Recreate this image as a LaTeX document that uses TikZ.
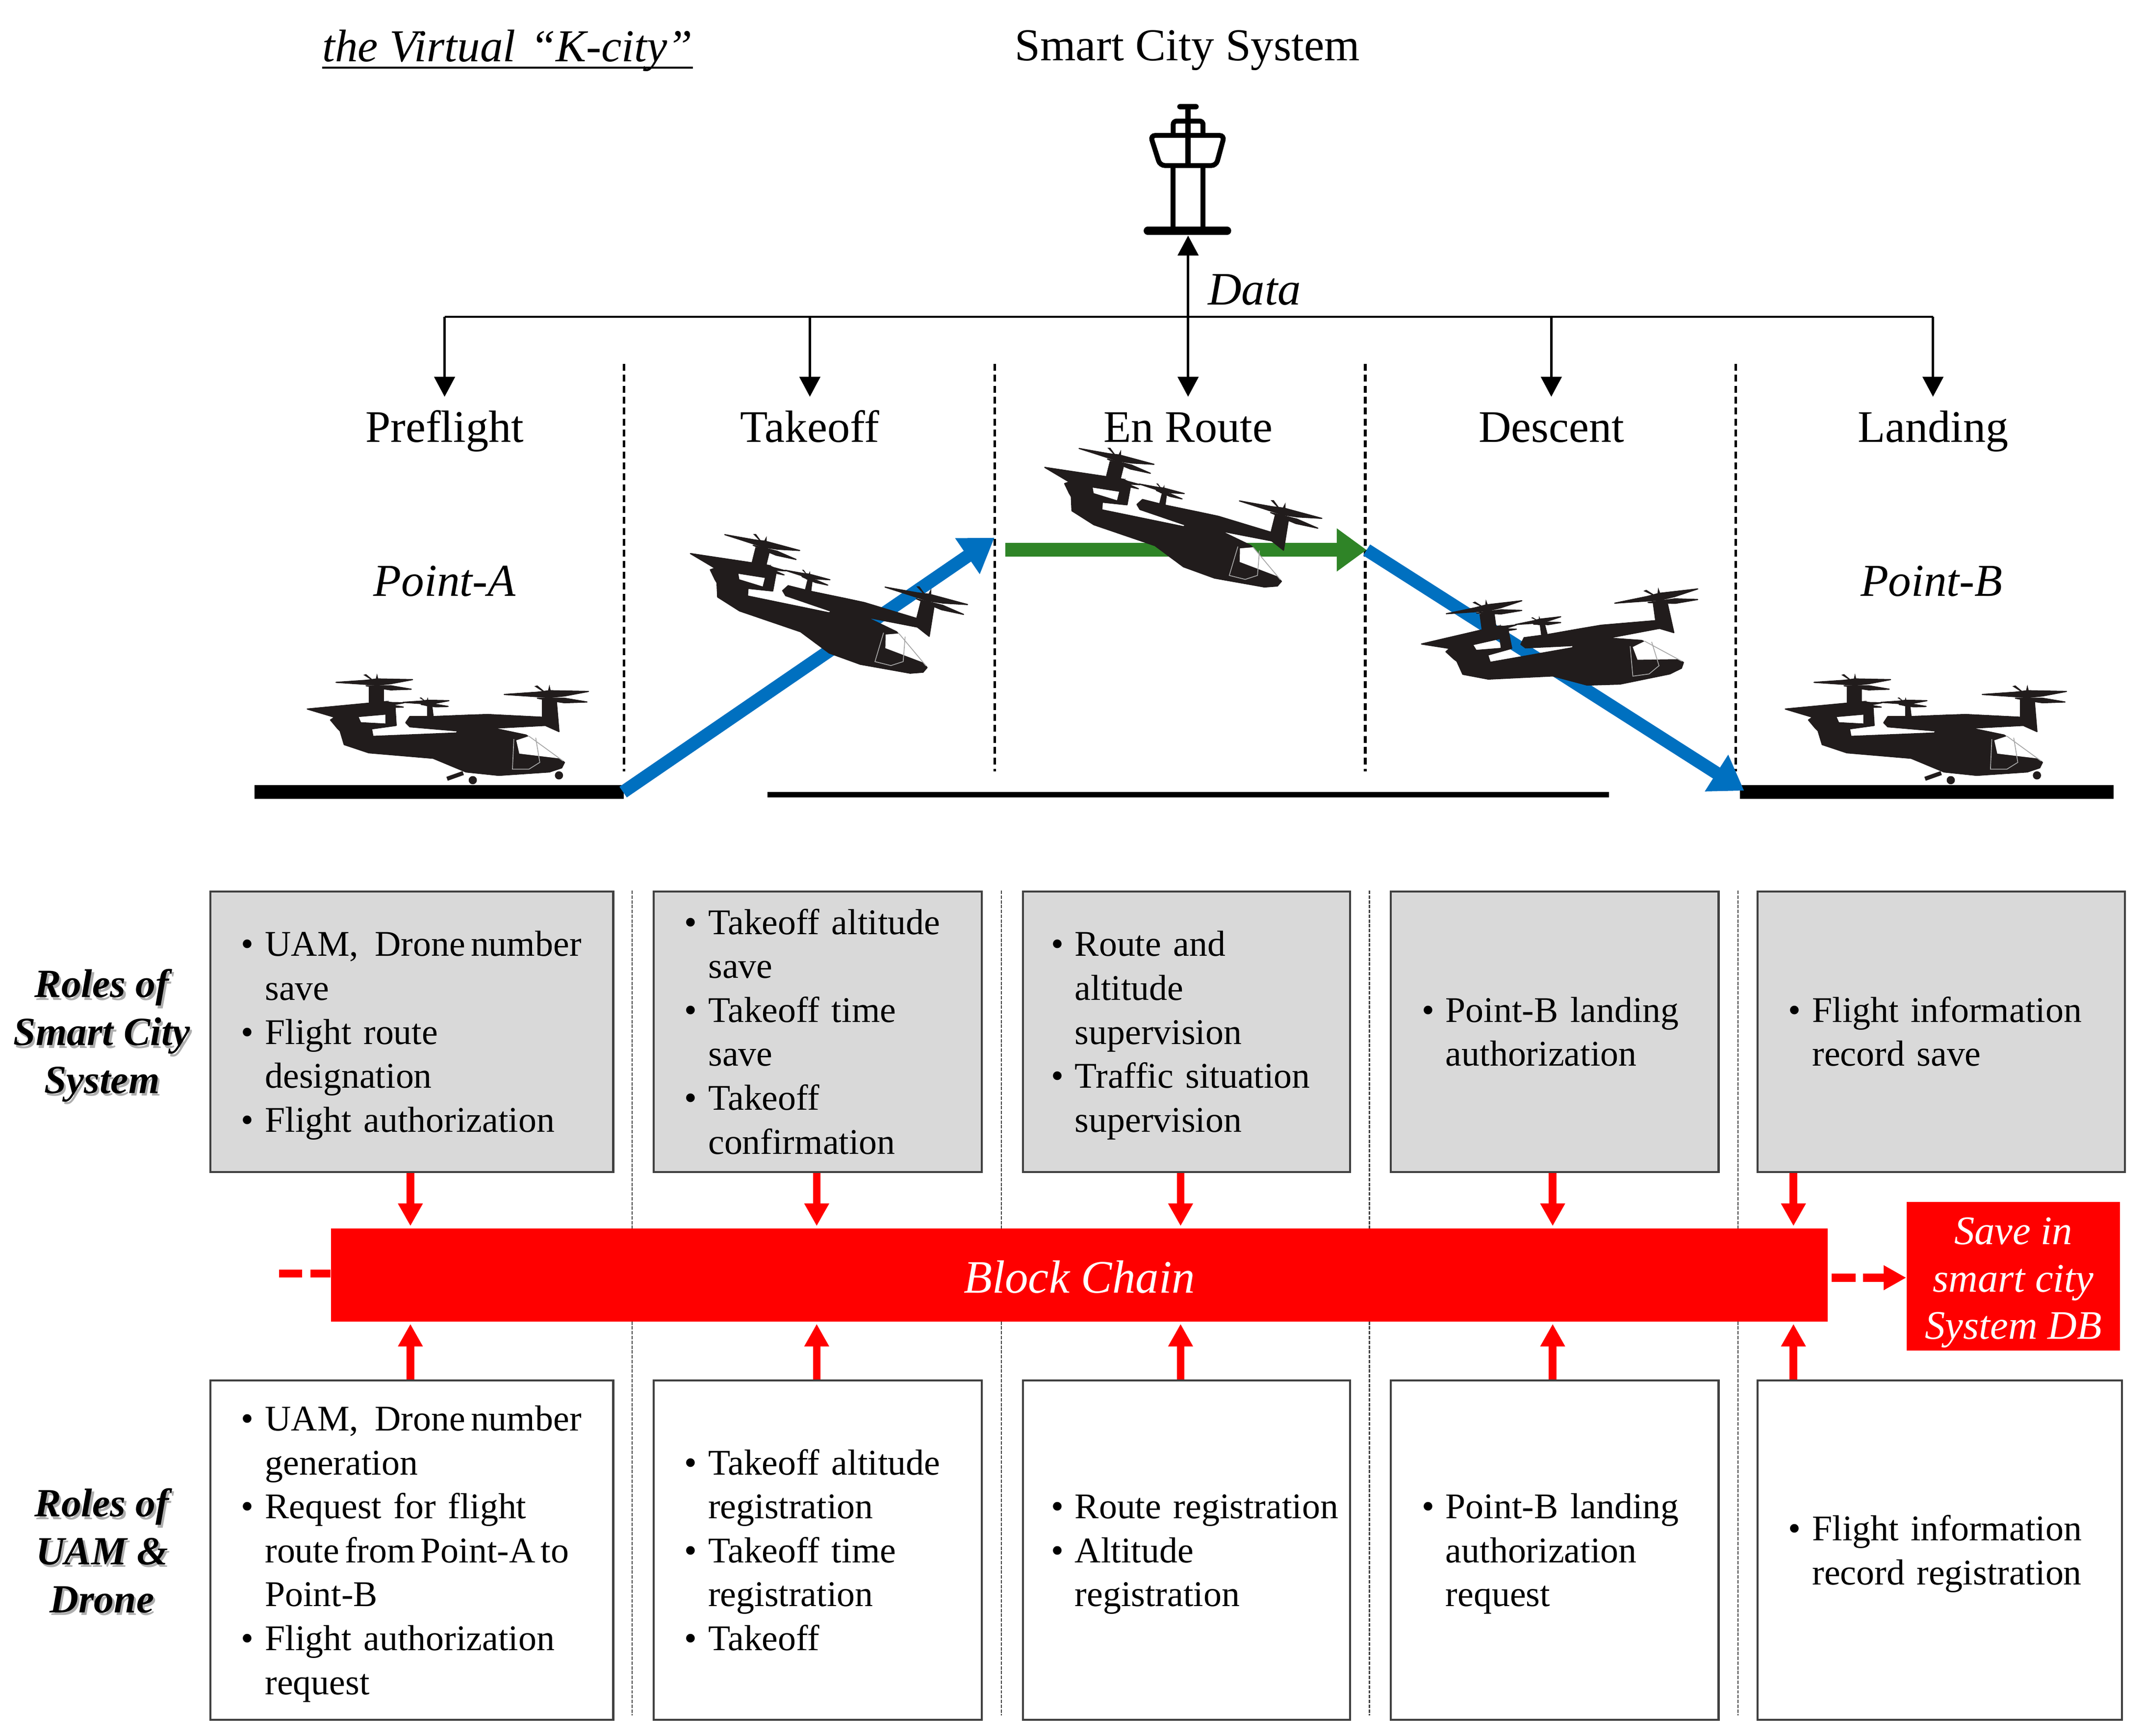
\documentclass[tikz,border=0pt]{standalone}
\usepackage{fontspec}
\setmainfont{Liberation Serif}
\usetikzlibrary{arrows.meta,positioning}
\definecolor{blue_arr}{RGB}{0, 112, 192}
\definecolor{green_arr}{RGB}{47, 132, 39}
\definecolor{box_fil}{RGB}{217, 217, 217}
\definecolor{box_out}{RGB}{64, 64, 64}
\definecolor{ink}{RGB}{33, 28, 28}
\newlength\pxl
\setlength\pxl{0.0279cm}
\newcommand\bu{\strut\hspace*{16.5\pxl}\makebox[17.5\pxl][l]{\textbullet}}
\newcommand\ct{\strut\hspace*{34\pxl}}
\newcommand\rotor[3]{\begin{scope}[shift={(#1,#2)},scale=#3]
	\filldraw[ink,line width=0.8*\pxl,line join=round] (-30,-1.5) -- (-8,-3) -- (0,-4) -- (26,-3.5) -- (10,-0.5) -- (0,0.5) -- cycle;
	\filldraw[ink,line width=0.8*\pxl,line join=round] (-8,1) -- (10,1) -- (25,3.5) -- (10,4) -- (0,2.5) -- cycle;
	\fill[ink] (-2.5,3) -- (0,-8) -- (2.5,3) -- cycle;
	\fill[ink] (-10,-7) -- (-8,-7.5) -- (1,0) -- cycle;
\end{scope}}
\tikzset{phase/.style = {anchor=north, inner xsep=0pt, inner ysep=0pt, text height=26pt, text depth=7pt, font=\fontsize{26.2}{30}\selectfont}}
\tikzset{thin_arrow/.style = {line width=1.3pt, -{Triangle[length=4.05mm,width=4.2mm]}}}
\tikzset{red_arrow/.style = {red, line width=5.6*\pxl, -{Triangle[length=4.6mm,width=4.75mm]}}}
\tikzset{fly_arrow/.style = {line width=9.5*\pxl, -{Triangle[length=6.7mm,width=8.4mm]}}}
\tikzset{sep_phase/.style = {line width=1.8*\pxl, dash pattern=on 5*\pxl off 3*\pxl}}
\tikzset{sep_role/.style = {line width=0.9*\pxl, box_out, dash pattern=on 2.5*\pxl off 1*\pxl}}
\tikzset{box/.style = {anchor=north west, rectangle, draw=box_out, line width=1.5*\pxl, inner xsep=6*\pxl, inner ysep=0pt, align=left, font=\fontsize{21}{25.5}\selectfont, execute at begin node={\leavevmode\rule{0pt}{21.9pt}}}}
\tikzset{box_top/.style = {box, fill=box_fil, minimum height=205*\pxl}}
\tikzset{box_bot/.style = {box, fill=white, minimum height=248*\pxl}}
\tikzset{roles/.style = {align=center, font=\fontsize{23.2}{27.8}\selectfont\bfseries\itshape}}
\tikzset{aircraft/.pic = {
	\filldraw[ink,even odd rule,line width=0.8*\pxl,line join=round] (-102,-11) -- (-60,-15) -- (-44,-16.5) -- (-38,-15) -- (-37,1) -- (-55,3.5) -- (-54,9) -- (7,6.5) -- (8,5) -- (-27,2) -- (-30,-1) -- (-27,-5.5) -- (-14,-5.5) -- (-14,-14) -- (-11,-14) -- (-10,-5.5) -- (15,-6.5) -- (30,-7) -- (70,-5) -- (70,-18) -- (80,-18) -- (82,5.5) -- (72,1) -- (34,3) -- (58,8) -- (86,28) -- (84,32) -- (75,35) -- (38,37.5) -- (14,35) -- (-10,25) -- (-57,21) -- (-75,15) -- (-78,5) -- (-80,3) -- (-85,-3) -- (-82,-5) -- cycle
		(-65,-5.5) -- (-44.5,-7.3) -- (-44.5,0) -- (-63,-1) -- cycle;
	\fill[ink] (-57,-14) -- (-57,-27) -- (-46,-27) -- (-46,-15) -- cycle;
	\rotor{-51}{-29}{1}
	\rotor{75}{-20}{1.1}
	\rotor{-43}{-14}{0.45}
	\rotor{-14}{-15}{0.6}
	\fill[white] (50.8,11.9) -- (60,8.8) -- (83,25.2) -- (53,21.6) -- cycle;
	\draw[gray!70,line width=0.6*\pxl] (49,11) -- (48,33) -- (60,33) -- (68,28) -- (65,10) (60,8.8) -- (85,27);
}}
\tikzset{gear/.pic = {
	\fill[ink] (19,41) circle (3);
	\fill[ink] (82,37.5) circle (3);
	\draw[ink,line width=3*\pxl] (0.2,40) -- (12,35.8);
}}
\begin{document}
\begin{tikzpicture}[x=\pxl,y=-\pxl]
\useasboundingbox (0,0) rectangle (1568,1268.7);

% titles
\node[inner xsep=0pt, font=\fontsize{26.5}{30}\selectfont\itshape] (virtual) at (371,37) {the Virtual\hspace{0.32em}“K-city”};
\draw[line width=1.4*\pxl] (virtual.west |- 0,49.5) -- (virtual.east |- 0,49.5);
\node[font=\fontsize{26.5}{30}\selectfont] (smart) at (868,37) {Smart\ City\ System};
\node[font=\fontsize{27}{30}\selectfont\itshape] (data) at (917,212) {Data};

% tower
\node[inner sep=0pt, minimum width=64*\pxl, minimum height=96*\pxl] (tower) at (868.5,124) {};
\draw[line width=3.8*\pxl, line cap=round] (862.4,78) -- (874.4,78);
\draw[line width=4*\pxl] (868.4,78) -- (868.4,121);
\draw[line width=3.6*\pxl, rounded corners=2.5*\pxl] (857.6,99) -- (857.6,88.5) -- (879.4,88.5) -- (879.4,99);
\draw[line width=3.6*\pxl, rounded corners=3.5*\pxl] (841,99) -- (895,99) -- (889,121) -- (848,121) -- cycle;
\draw[line width=3.6*\pxl] (857.6,121) -- (857.6,168) (879.4,121) -- (879.4,168);
\draw[line width=6*\pxl, line cap=round] (839,168.7) -- (897,168.7);

% phases
\node[phase] (preflight) at (325,290) {Preflight};
\node[phase] (takeoff) at (592,290) {Takeoff};
\node[phase] (enroute) at (868.5,290) {En Route};
\node[phase] (descent) at (1134,290) {Descent};
\node[phase] (landing) at (1413,290) {Landing};
\node[font=\fontsize{26.5}{30}\selectfont\itshape] (pointa) at (325,425) {Point-A};
\node[font=\fontsize{26.5}{30}\selectfont\itshape] (pointb) at (1412,425) {Point-B};

\coordinate (bus) at (868.5,231.5);
\draw[line width=1.2pt] (preflight.north |- bus) -- (landing.north |- bus);
\foreach \i in {preflight,takeoff,descent,landing}{
	\draw[thin_arrow] (\i.north |- bus) -- (\i.north);
	}
\draw[thin_arrow,{Triangle[length=4.05mm,width=4.2mm]}-{Triangle[length=4.05mm,width=4.2mm]}] (tower.south) -- (enroute.north);

\foreach \x in {456,727,998,1269}{
	\draw[sep_phase] (\x,266) -- (\x,564);
	}

% ground
\fill (186,574) rectangle (456,584);
\fill (1272,574) rectangle (1545,584);
\fill (561,579) rectangle (1176,583);

% flight path
\coordinate (pa) at (455.5,579);
\coordinate (pc) at (727,393);
\coordinate (pd) at (735,402);
\coordinate (pe) at (999,402);
\coordinate (pf) at (999,402);
\coordinate (pg) at (1275,578);
\draw[fly_arrow,blue_arr] (pa) -- (pc);
\draw[fly_arrow,green_arr,line width=10*\pxl,-{Triangle[length=6.1mm,width=8.4mm]}] (pd) -- (pe);
\draw[fly_arrow,blue_arr] (pf) -- (pg);

% aircraft
\pic at (326.6,529.3) {aircraft};
\pic at (326.6,529.3) {gear};
\pic[rotate=-14] at (601,440) {aircraft};
\pic[rotate=-14] at (860,377) {aircraft};
\pic[rotate=7.7] at (1141.6,468) {aircraft};
\pic at (1407,529.3) {aircraft};
\pic at (1407,529.3) {gear};

% separators of the lower part
\foreach \x in {462,732,1001,1270.5}{
	\draw[sep_role] (\x,651) -- (\x,1254);
	}

% roles of smart city system
\node[box_top,text width=282.5\pxl] (top1) at (153,651) {\bu UAM,\ \hspace{0.12em}Drone\hspace{0.15em}number\\\ct save\\\bu Flight route\\\ct designation\\\bu Flight authorization};
\node[box_top,text width=228\pxl] (top2) at (477,651) {\bu Takeoff altitude\\\ct save\\\bu Takeoff time\\\ct save\\\bu Takeoff\\\ct confirmation};
\node[box_top,text width=231\pxl,inner xsep=4*\pxl] (top3) at (747,651) {\bu Route and\\\ct altitude\\\ct supervision\\\bu Traffic situation\\\ct supervision};
\node[box_top,text width=227.5\pxl] (top4) at (1016,651) {\bu Point-B landing\\\ct authorization};
\node[box_top,text width=256.5\pxl] (top5) at (1284,651) {\bu Flight information\\\ct record save};

% roles of uam and drone
\node[box_bot,text width=282.5\pxl] (bot1) at (153,1008.5) {\bu UAM,\ \hspace{0.12em}Drone\hspace{0.15em}number\\\ct generation\\\bu Request for flight\\\ct{\spaceskip=0.15em route from Point-A to}\\\ct Point-B\\\bu Flight authorization\\\ct request};
\node[box_bot,text width=228\pxl] (bot2) at (477,1008.5) {\bu Takeoff altitude\\\ct registration\\\bu Takeoff time\\\ct registration\\\bu Takeoff};
\node[box_bot,text width=231\pxl,inner xsep=4*\pxl] (bot3) at (747,1008.5) {\bu Route registration\\\bu Altitude\\\ct registration};
\node[box_bot,text width=227.5\pxl] (bot4) at (1016,1008.5) {\bu Point-B landing\\\ct authorization\\\ct request};
\node[box_bot,text width=254.5\pxl] (bot5) at (1284,1008.5) {\bu Flight information\\\ct record registration};

% block chain
\node[fill=red, text=white, inner sep=0pt, text height=21pt, text depth=0pt, minimum width=1094*\pxl, minimum height=68*\pxl, font=\fontsize{27}{30}\selectfont\itshape] (chain) at (789,932) {Block Chain};
\node[fill=red, text=white, inner sep=0pt, minimum width=156*\pxl, minimum height=108.5*\pxl, align=center, font=\fontsize{23.5}{27.4}\selectfont\itshape] (save) at (1471.7,933) {\rule{0pt}{23pt}Save in\\smart city\\System DB};

\foreach \n/\x in {1/300,2/597,3/863,4/1135,5/1311}{
	\draw[red_arrow] (\x,0 |- top\n.south) -- ([yshift=1.5*\pxl]\x,0 |- chain.north);
	\draw[red_arrow] (\x,0 |- bot\n.north) -- ([yshift=-1.5*\pxl]\x,0 |- chain.south);
	}
\coordinate (cin) at (204,931);
\draw[red, line width=6*\pxl, dash pattern=on 17*\pxl off 6*\pxl] (cin) -- (chain.west |- cin);
\coordinate (cout) at (1339,934);
\draw[red_arrow, line width=6*\pxl, dash pattern=on 17.5*\pxl off 5.5*\pxl] (cout) -- (save.west |- cout);

% side labels
\node[roles, text=black!45, opacity=0.7] (sys_shadow) at (76,759) {Roles of\\Smart City\\System};
\node[roles] (sys) at (74.5,757) {Roles of\\Smart City\\System};
\node[roles, text=black!45, opacity=0.7] (uam_shadow) at (76,1135.5) {Roles of\\UAM \&\\Drone};
\node[roles] (uam) at (74.5,1133.5) {Roles of\\UAM \&\\Drone};
\end{tikzpicture}
\end{document}
